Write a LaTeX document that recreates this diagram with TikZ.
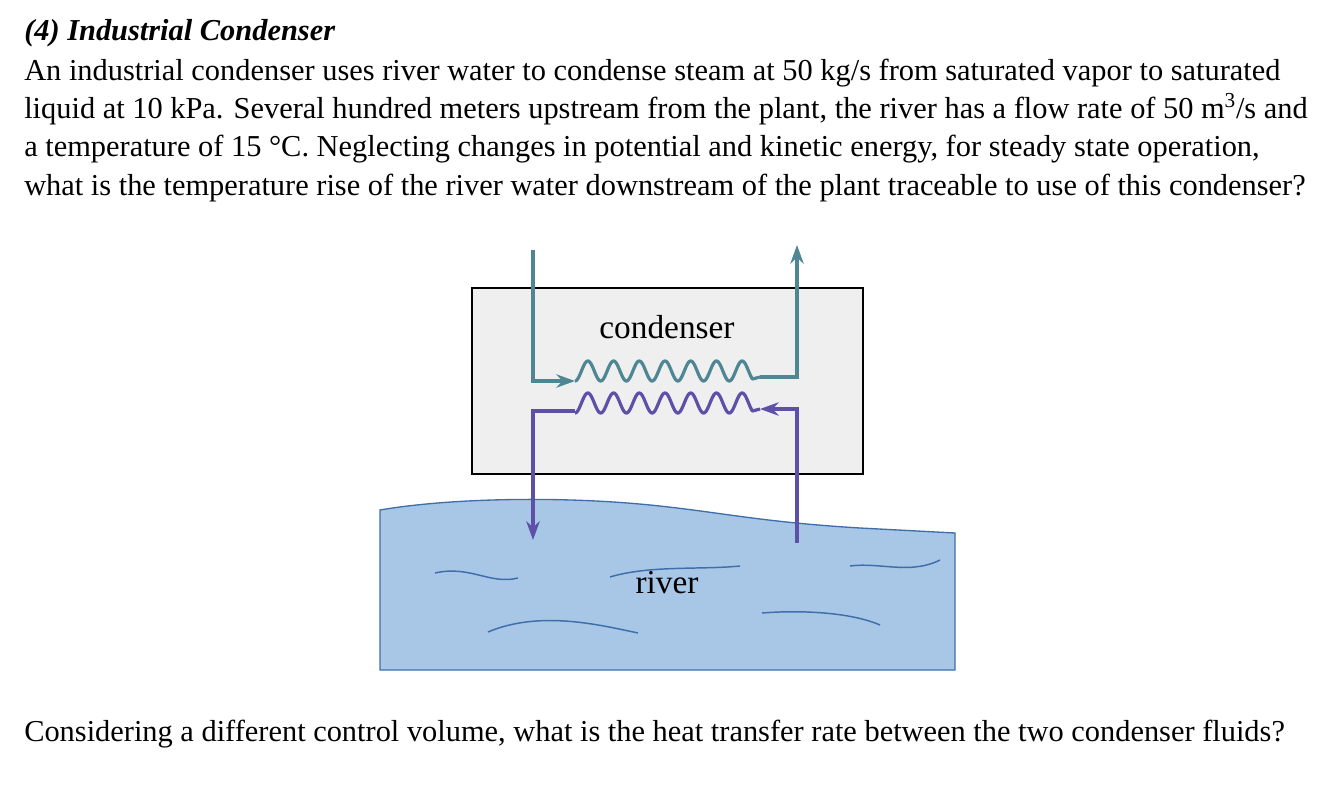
\documentclass[tikz,border=0pt]{standalone}
\usepackage{fontspec}
\setmainfont{Liberation Serif}
\usetikzlibrary{arrows.meta}
\definecolor{teal1}{HTML}{4F8694}
\definecolor{purp1}{HTML}{5E4FA8}
\definecolor{rivf}{HTML}{A8C6E6}
\definecolor{rivs}{HTML}{3E6FAA}
\definecolor{boxf}{HTML}{EFEFEF}
\tikzset{txt/.style={anchor=base west,inner sep=0,font=\fontsize{22.8}{26}\selectfont},
 flowT/.style={teal1,line width=2.4pt},
 flowP/.style={purp1,line width=2.4pt},
 tip/.style={-{Stealth[length=14pt,width=10pt]}},
 ripple/.style={rivs,line width=1.1pt}}
\begin{document}
\begin{tikzpicture}[x=0.75pt,y=-0.75pt]
\useasboundingbox (0,0) rectangle (1324,792);
\node[txt] (t0) at (24,41) {\textbf{\textit{(4) Industrial Condenser}}};
\node[txt] (t1) at (24,80) {An industrial condenser uses river water to condense steam at 50 kg/s from saturated vapor to saturated};
\node[txt] (t2) at (24,118) {liquid at 10 kPa. Several hundred meters upstream from the plant, the river has a flow rate of 50 m\textsuperscript{3}/s and};
\node[txt] (t3) at (24,156) {a temperature of 15 °C. Neglecting changes in potential and kinetic energy, for steady state operation,};
\node[txt] (t4) at (24,195) {what is the temperature rise of the river water downstream of the plant traceable to use of this condenser?};
\node[txt] (t5) at (24,741) {Considering a different control volume, what is the heat transfer rate between the two condenser fluids?};
% condenser box
\node[draw=black,fill=boxf,line width=1pt,minimum width=391*0.75pt,minimum height=186*0.75pt,inner sep=0] (box) at (667.5,381) {};
\node[font=\fontsize{25}{28}\selectfont] (clab) at (667,327) {condenser};
% river
\draw[rivs,fill=rivf,line width=1pt] (380,510) .. controls (450,498) and (560,496) .. (650,505) .. controls (720,512) and (760,522) .. (860,528) -- (955,533) -- (955,670) -- (380,670) -- cycle;
\node[font=\fontsize{25}{28}\selectfont] (rlab) at (667,583) {river};
\draw[ripple] (435,573) .. controls (470,565) and (490,585) .. (518,578);
\draw[ripple] (610,577) .. controls (650,565) and (700,570) .. (740,566);
\draw[ripple] (850,566) .. controls (880,562) and (910,575) .. (940,560);
\draw[ripple] (488,632) .. controls (540,610) and (600,625) .. (638,633);
\draw[ripple] (762,613) .. controls (800,610) and (850,612) .. (880,625);
% teal flow
\coordinate (tin) at (533,250);
\coordinate (tc1) at (575,381);
\coordinate (tc2) at (760,377);
\coordinate (tout) at (797,245);
\draw[flowT,tip] (tin) |- (tc1);
\draw[flowT,line join=round] plot[domain=0:6.9,samples=300] ({575+180/7*\x},{371+10*cos(360*\x)}) -- (tc2);
\draw[flowT,tip] (tc2) -| (tout);
% purple flow
\coordinate (pin) at (797,543);
\coordinate (pc1) at (760,409);
\coordinate (pc2) at (575,411);
\coordinate (pout) at (533,540);
\draw[flowP,tip] (pin) |- (pc1);
\draw[flowP,line join=round] plot[domain=0:6.9,samples=300] ({575+180/7*\x},{403+10*cos(360*\x)}) -- (pc1);
\draw[flowP,tip] (pc2) -| (pout);
\end{tikzpicture}
\end{document}
